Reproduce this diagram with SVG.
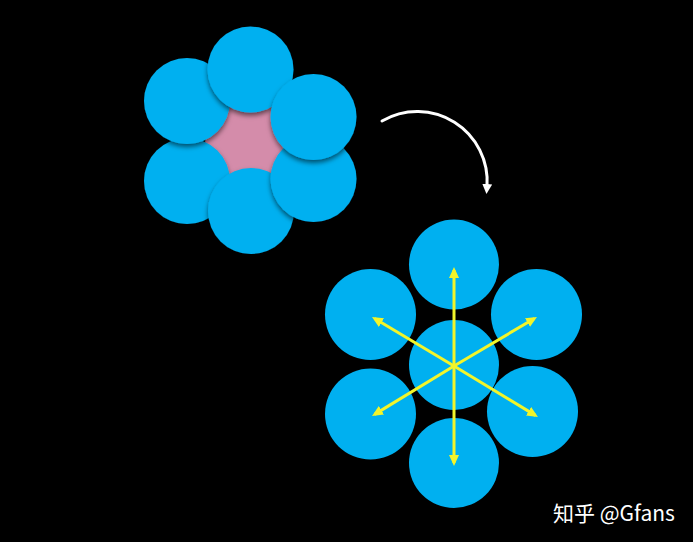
<svg xmlns="http://www.w3.org/2000/svg" width="693" height="542" viewBox="0 0 693 542">
  <style>
    .petal { fill: #00b0f0; }
    .sh { filter: url(#shadow); }
    .ray { stroke: #f2f52a; stroke-width: 3; fill: none; marker-end: url(#yhead); }
    .turn { stroke: #ffffff; stroke-width: 3; fill: none; stroke-linecap: round; marker-end: url(#whead); }
    .mark { fill: #ffffff; font-family: "Noto Sans CJK SC", "Noto Sans", sans-serif; font-size: 21px; }
  </style>
  <defs>
    <filter id="shadow" x="-30%" y="-30%" width="160%" height="160%">
      <feDropShadow dx="0" dy="3" stdDeviation="2.5" flood-color="#000000" flood-opacity="0.55"/>
    </filter>
    <marker id="yhead" markerUnits="userSpaceOnUse" markerWidth="11" markerHeight="10" refX="8" refY="5" orient="auto" viewBox="0 0 11 10">
      <path d="M0,0 L11,5 L0,10 Z" fill="#f2f52a"/>
    </marker>
    <marker id="whead" markerUnits="userSpaceOnUse" markerWidth="10" markerHeight="10" refX="3" refY="5" orient="auto" viewBox="0 0 10 10">
      <path d="M0,0 L10,5 L0,10 Z" fill="#ffffff"/>
    </marker>
  </defs>
  <rect width="693" height="542" fill="#000000"/>

  <g id="top-flower">
    <circle id="core-pink" cx="250" cy="145" r="45" fill="#d48caa"/>
    <circle id="petal-ll" class="petal sh" cx="187" cy="181" r="43"/>
    <circle id="petal-ul" class="petal sh" cx="187" cy="101" r="43"/>
    <circle id="petal-t" class="petal sh" cx="250.5" cy="69.5" r="43"/>
    <circle id="petal-b" class="petal sh" cx="251" cy="211" r="43"/>
    <circle id="petal-lr" class="petal sh" cx="313.5" cy="179" r="43"/>
    <circle id="petal-ur" class="petal sh" cx="313.5" cy="117" r="43"/>
  </g>

  <g id="bottom-flower">
    <circle id="c-center" class="petal" cx="454" cy="365" r="45"/>
    <circle id="c-top" class="petal" cx="454" cy="264.5" r="45"/>
    <circle id="c-bottom" class="petal" cx="454" cy="463" r="45"/>
    <circle id="c-ul" class="petal" cx="370.5" cy="314.5" r="45.5"/>
    <circle id="c-ur" class="petal" cx="536.5" cy="314.5" r="45.5"/>
    <circle id="c-ll" class="petal" cx="370.5" cy="414" r="45.5"/>
    <circle id="c-lr" class="petal" cx="532.5" cy="411.5" r="45.5"/>
  </g>

  <g id="connectors">
    <path class="turn" d="M382,121 A70,70 0 0 1 487,187"/>
    <line class="ray" x1="454" y1="366" x2="454" y2="270"/>
    <line class="ray" x1="454" y1="366" x2="454" y2="463"/>
    <line class="ray" x1="454" y1="366" x2="374.6" y2="318.5"/>
    <line class="ray" x1="454" y1="366" x2="534.4" y2="318.5"/>
    <line class="ray" x1="454" y1="366" x2="374.6" y2="414.4"/>
    <line class="ray" x1="454" y1="366" x2="535.4" y2="415.4"/>
  </g>

  <text class="mark" x="553" y="521">知乎 @Gfans</text>
</svg>
